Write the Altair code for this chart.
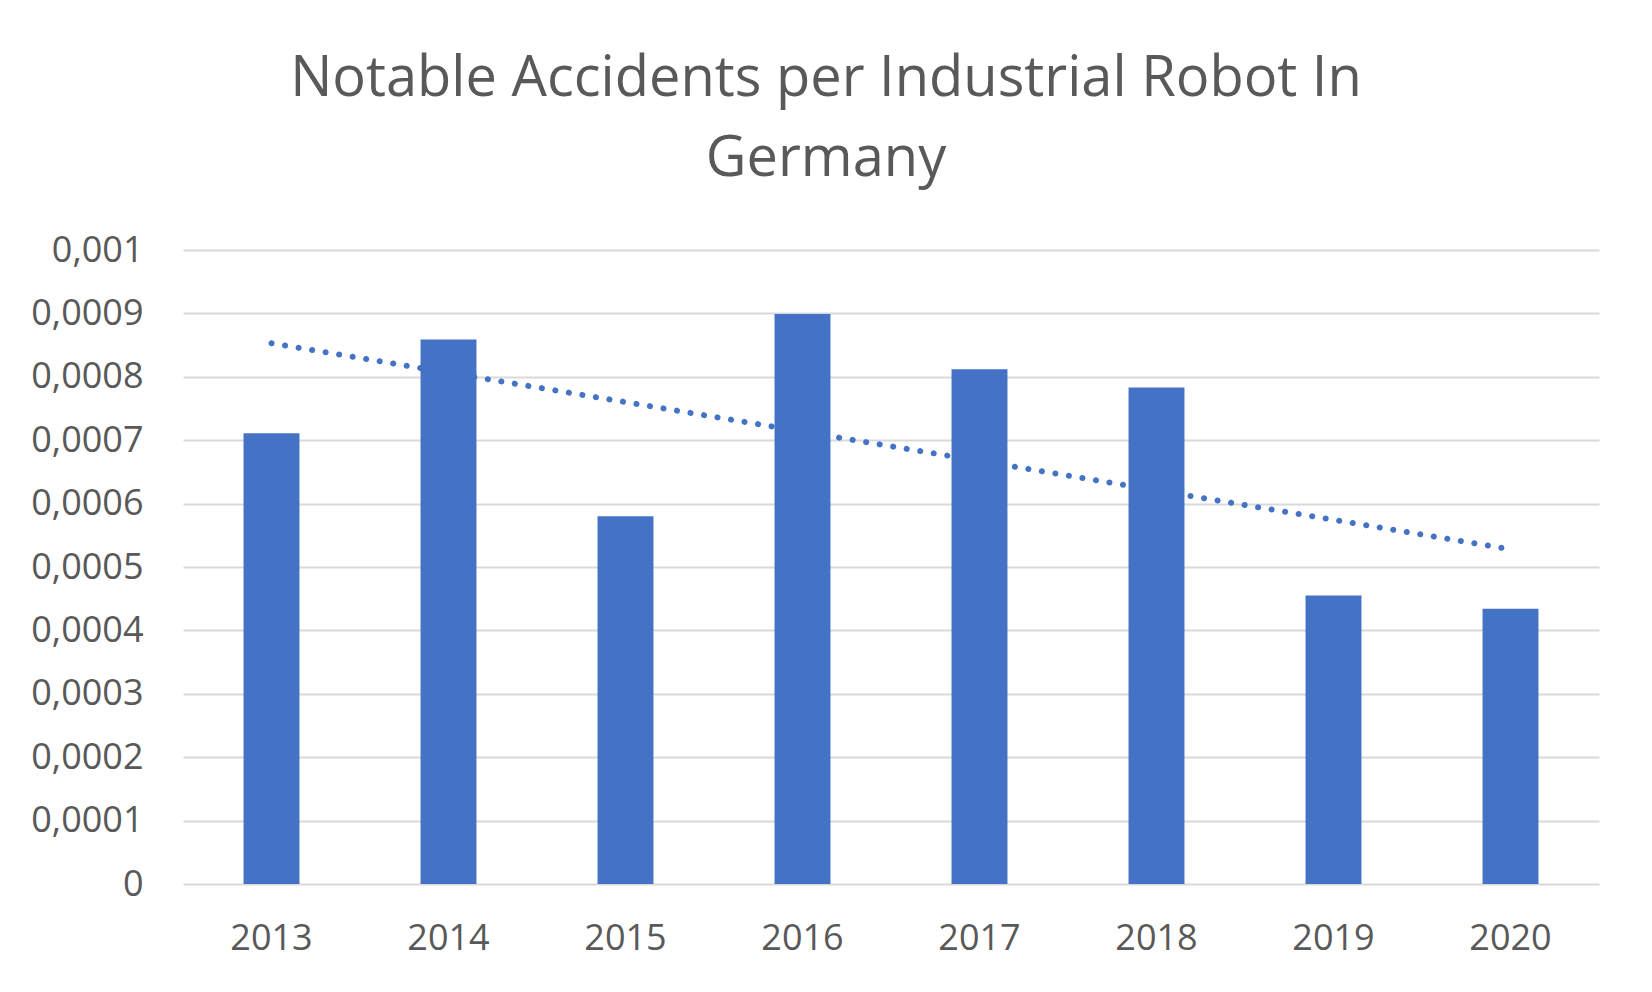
import altair as alt
import pandas as pd

years = ["2013", "2014", "2015", "2016", "2017", "2018", "2019", "2020"]
accidents_per_robot = [0.000711, 0.000859, 0.000580, 0.000899, 0.000812, 0.000783, 0.000455, 0.000434]

trend_years = ["2013", "2020"]
trend_values = [0.000853, 0.000528]

title_lines = ["Notable Accidents per Industrial Robot In", "Germany"]

bars_df = pd.DataFrame({"year": years, "value": accidents_per_robot})
trend_df = pd.DataFrame({"year": trend_years, "value": trend_values})

TEXT = "#595959"
BLUE = "#4472C4"
GRID = "#D9D9D9"
FONT = "Open Sans"

x_axis = alt.Axis(
    labelAngle=0,
    labelFont=FONT,
    labelFontSize=36,
    labelColor=TEXT,
    labelPadding=37,
    ticks=False,
    domain=False,
    grid=False,
)

y_axis = alt.Axis(
    values=[i / 10000 for i in range(11)],
    labelExpr="replace(format(datum.value, ''), '.', ',')",
    labelFont=FONT,
    labelFontSize=36,
    labelColor=TEXT,
    labelPadding=40,
    ticks=False,
    domain=False,
    grid=True,
    gridColor=GRID,
    gridWidth=2,
)

x_enc = alt.X(
    "year:N",
    sort=years,
    title=None,
    scale=alt.Scale(paddingInner=0.684, paddingOuter=0.342),
    axis=x_axis,
)

y_enc = alt.Y(
    "value:Q",
    title=None,
    scale=alt.Scale(domain=[0, 0.001], nice=False),
    axis=y_axis,
)

bars = alt.Chart(bars_df).mark_bar(color=BLUE).encode(x=x_enc, y=y_enc)

trend = alt.Chart(trend_df).mark_line(
    color=BLUE, strokeWidth=6, strokeCap="round", strokeDash=[0.1, 13.6]
).encode(
    x=alt.X("year:N", sort=years, title=None, axis=x_axis),
    y=alt.Y("value:Q", title=None, axis=y_axis),
)

chart = (
    alt.layer(bars, trend)
    .properties(
        width=1416,
        height=634,
        background="white",
        padding={"left": 175, "top": 242, "right": 45, "bottom": 100},
        autosize=alt.AutoSizeParams(type="none"),
        title=alt.TitleParams(
            text=title_lines,
            font=FONT,
            fontSize=56,
            fontWeight="normal",
            color=TEXT,
            anchor="middle",
            dx=-65,
            offset=44,
            lineHeight=80,
        ),
    )
    .configure_view(strokeWidth=0, strokeOpacity=0)
    .configure_axis(domain=False)
)

chart.save("out.html", embed_options={"renderer": "svg", "actions": False})
